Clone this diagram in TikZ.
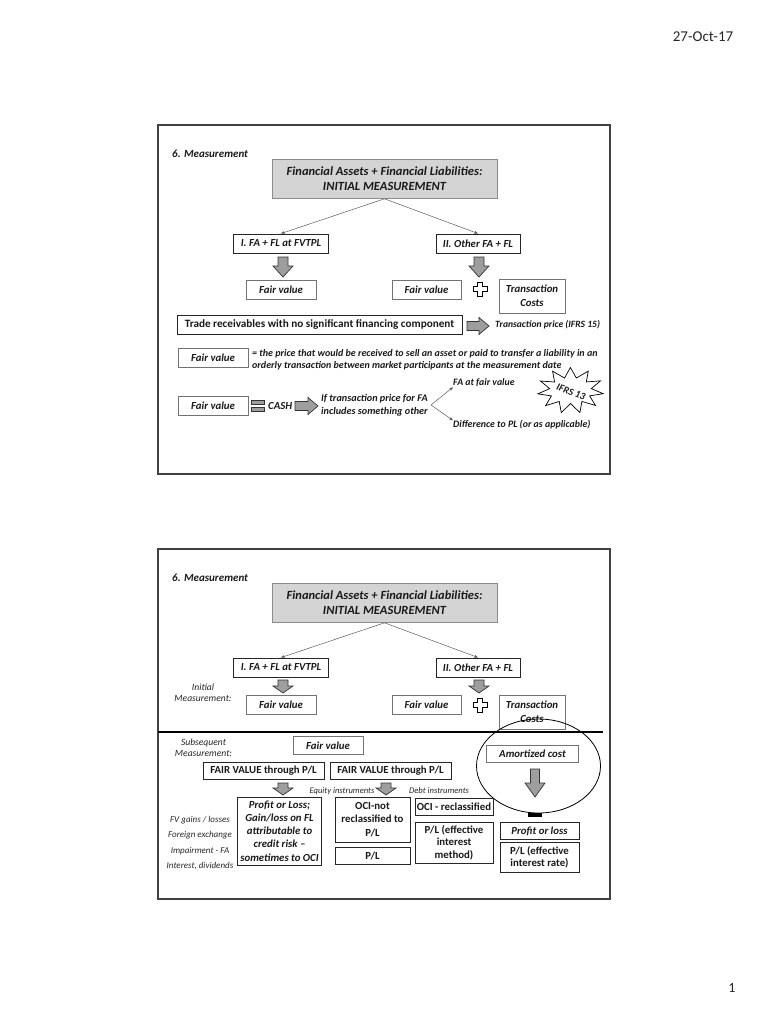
\documentclass[tikz,border=0pt]{standalone}
\usepackage{fontspec}
\setmainfont{Carlito}
\usetikzlibrary{arrows.meta}
% down block arrow: x, ytop, length, shaft half-width, head half-width, head length
\newcommand\dnarrow[6]{%
  \draw[blk] (#1-#4,#2) -- (#1+#4,#2) -- (#1+#4,#2+#3-#6) -- (#1+#5,#2+#3-#6) -- (#1,#2+#3) -- (#1-#5,#2+#3-#6) -- (#1-#4,#2+#3-#6) -- cycle;}
\newcommand\rtarrow[3]{% xleft, ycenter, length
  \draw[blk] (#1,#2-4.5) -- (#1+#3-10,#2-4.5) -- (#1+#3-10,#2-8.5) -- (#1+#3,#2) -- (#1+#3-10,#2+8.5) -- (#1+#3-10,#2+4.5) -- (#1,#2+4.5) -- cycle;}
\newcommand\plusshape[2]{%
  \draw[line width=0.7pt,fill=white] (#1-2.5,#2-7) -- (#1+2.5,#2-7) -- (#1+2.5,#2-2.5) -- (#1+7,#2-2.5) -- (#1+7,#2+2.5) -- (#1+2.5,#2+2.5) -- (#1+2.5,#2+7) -- (#1-2.5,#2+7) -- (#1-2.5,#2+2.5) -- (#1-7,#2+2.5) -- (#1-7,#2-2.5) -- (#1-2.5,#2-2.5) -- cycle;}
\newcommand\bfit{\bfseries\itshape}
\begin{document}
\begin{tikzpicture}[x=1pt,y=-1pt,
  frame/.style={draw=black!75,line width=1.1pt},
  box/.style={draw=black!55,line width=0.6pt,fill=white,inner sep=0pt,align=center,text=black!90,font=\bfseries\itshape\fontsize{10.8}{13}\selectfont},
  sbox/.style={box,draw=black!85,line width=0.9pt,font=\bfseries\fontsize{10.8}{13}\selectfont},
  ibox/.style={box,draw=black!85,line width=0.9pt},
  title/.style={draw=black!45,line width=0.6pt,fill=black!17,inner sep=0pt,align=center,text=black!90,font=\bfseries\itshape\fontsize{12.5}{15}\selectfont},
  lab/.style={inner sep=0pt,text=black!90,font=\bfseries\itshape\fontsize{10.5}{12}\selectfont},
  slab/.style={inner sep=0pt,align=center,font=\itshape\fontsize{9.6}{11.5}\selectfont,text=black!85},
  conn/.style={draw=black!65,line width=0.5pt,-{Stealth[length=4pt,width=3pt]}},
  blk/.style={draw=black!80,line width=0.7pt,fill=black!38},
]
\useasboundingbox (0,0) rectangle (768,1024);
% header and page number
\node[inner sep=0pt,text=black!85,font=\fontsize{15}{17}\selectfont] (date) at (703,37) {27-Oct-17};
\node[inner sep=0pt,text=black!85,font=\fontsize{14}{16}\selectfont] (pg) at (732,988) {1};

% ================= TOP SLIDE =================
\draw[frame] (158,125) rectangle (610,474);
\node[lab,anchor=west,font=\bfseries\itshape\fontsize{11}{12}\selectfont] (m1) at (172,154) {6. Measurement};
\node[title,minimum width=225pt,minimum height=39pt] (t1) at (384.5,179) {Financial Assets + Financial Liabilities:\\\bfit INITIAL MEASUREMENT};
\node[ibox,minimum width=95pt,minimum height=19pt] (a1) at (281,243.5) {I. FA + FL at FVTPL};
\node[ibox,minimum width=84pt,minimum height=19pt] (b1) at (478,243.5) {II. Other FA + FL};
\draw[conn] (t1.south) -- (a1.north);
\draw[conn] (t1.south) -- (b1.north);
\dnarrow{283}{257}{20}{5}{10}{11}
\dnarrow{479}{257}{20}{5}{10}{11}
\node[box,minimum width=70pt,minimum height=19pt] (fv1) at (281,289.5) {Fair value};
\node[box,minimum width=69pt,minimum height=19pt] (fv2) at (426.5,289.5) {Fair value};
\plusshape{480}{289}
\node[box,minimum width=66pt,minimum height=34pt,font=\bfseries\itshape\fontsize{10.8}{14}\selectfont] (tc1) at (532,296) {Transaction\\\bfit Costs};
\node[sbox,minimum width=285pt,minimum height=19pt,font=\bfseries\fontsize{11.2}{13}\selectfont] (tr) at (319.5,324.5) {Trade receivables with no significant financing component};
\rtarrow{467}{326}{22}
\node[lab,anchor=west,font=\bfseries\itshape\fontsize{9.6}{11}\selectfont] (tp) at (495,325) {Transaction price (IFRS 15)};
\node[box,minimum width=70pt,minimum height=19pt] (fv3) at (213,358) {Fair value};
\node[lab,anchor=west,align=left,font=\bfseries\itshape\fontsize{10}{12}\selectfont] (def) at (252,360) {= the price that would be received to sell an asset or paid to transfer a liability in an\\\bfit orderly transaction between market participants at the measurement date};
\node[box,minimum width=70pt,minimum height=19pt] (fv4) at (213,405.5) {Fair value};
\draw[blk] (251,400.5) rectangle (264,404.5);
\draw[blk] (251,407) rectangle (264,411);
\node[lab,anchor=west,font=\bfseries\itshape\fontsize{10.8}{12}\selectfont] (cash) at (268,406) {CASH};
\rtarrow{295}{406}{23}
\node[lab,anchor=west,align=left,font=\bfseries\itshape\fontsize{10.2}{13}\selectfont] (iftp) at (321,405.5) {If transaction price for FA\\\bfit includes something other};
\coordinate (br) at (431,405);
\node[lab,anchor=west,font=\bfseries\itshape\fontsize{9.8}{11}\selectfont] (fafv) at (453,383) {FA at fair value};
\node[lab,anchor=west,font=\bfseries\itshape\fontsize{9.9}{11}\selectfont] (diff) at (453,425) {Difference to PL (or as applicable)};
\draw[conn] (br) -- (fafv.south west);
\draw[conn] (br) -- (diff.north west);
\begin{scope}[shift={(570.5,390.5)}]
\draw[line width=0.7pt,fill=white] (8:33 and 23) \foreach \i in {1,...,21} { -- ({\i*360/22+8}:{mod(\i,2)==0 ? 33 : 21} and {mod(\i,2)==0 ? 23 : 13}) } -- cycle;
\end{scope}
\node[inner sep=0pt,rotate=-20,text=black!90,font=\bfseries\itshape\fontsize{10}{12}\selectfont] (ifrs) at (571,392) {IFRS 13};

% ================= BOTTOM SLIDE =================
\draw[frame] (158,549) rectangle (610,899);
\node[lab,anchor=west,font=\bfseries\itshape\fontsize{11}{12}\selectfont] (m2) at (172,578) {6. Measurement};
\node[title,minimum width=225pt,minimum height=39pt] (t2) at (384.5,603) {Financial Assets + Financial Liabilities:\\\bfit INITIAL MEASUREMENT};
\node[ibox,minimum width=95pt,minimum height=19pt] (a2) at (281,667.5) {I. FA + FL at FVTPL};
\node[ibox,minimum width=84pt,minimum height=19pt] (b2) at (478,667.5) {II. Other FA + FL};
\draw[conn] (t2.south) -- (a2.north);
\draw[conn] (t2.south) -- (b2.north);
\node[slab] (im) at (203,692.5) {Initial\\\itshape Measurement:};
\dnarrow{283}{680}{13}{5}{10}{7}
\dnarrow{479}{680}{13}{5}{10}{7}
\node[box,minimum width=70pt,minimum height=19pt] (fv5) at (281,704.5) {Fair value};
\node[box,minimum width=69pt,minimum height=19pt] (fv6) at (426.5,704.5) {Fair value};
\plusshape{480}{705}
\node[box,minimum width=66pt,minimum height=34pt,font=\bfseries\itshape\fontsize{10.8}{14}\selectfont] (tc2) at (532,712) {Transaction\\\bfit Costs};
\draw[line width=1.5pt] (158,732) -- (603,732);
\node[slab] (sm) at (203.5,747.5) {Subsequent\\\itshape Measurement:};
\node[box,minimum width=70pt,minimum height=18pt] (fv7) at (328,745.5) {Fair value};
\draw[line width=0.8pt] (538.5,766) ellipse (62 and 47);
\node[box,minimum width=92pt,minimum height=17pt] (ac) at (532.5,754) {Amortized cost};
\node[sbox,minimum width=121pt,minimum height=17pt] (fp1) at (263.5,770.5) {FAIR VALUE through P/L};
\node[sbox,minimum width=121pt,minimum height=17pt] (fp2) at (390.5,770.5) {FAIR VALUE through P/L};
\dnarrow{283}{783}{12}{5}{10}{7}
\dnarrow{386}{783}{12}{5}{10}{7}
\node[slab,font=\itshape\fontsize{8.6}{10}\selectfont] (eqi) at (342,791) {Equity instruments};
\node[slab,font=\itshape\fontsize{8.6}{10}\selectfont] (dbi) at (439,791) {Debt instruments};
\dnarrow{535}{769}{28}{4.5}{10}{14}
\fill[black] (528,813) rectangle (542,817);
\node[slab,font=\itshape\fontsize{9}{15.5}\selectfont] (lbl) at (200,843) {FV gains / losses\\\itshape Foreign exchange\\\itshape Impairment - FA\\\itshape Interest, dividends};
\node[ibox,minimum width=84pt,minimum height=68pt,font=\bfseries\itshape\fontsize{10.8}{13.2}\selectfont] (pol) at (279.5,831) {Profit or Loss;\\\bfit Gain/loss on FL\\\bfit attributable to\\\bfit credit risk –\\\bfit sometimes to OCI};
\node[sbox,minimum width=75pt,minimum height=45pt,font=\bfseries\fontsize{10.8}{13.5}\selectfont] (oci) at (372.5,819.5) {OCI-not\\reclassified to\\P/L};
\node[sbox,minimum width=75pt,minimum height=17pt] (pl1) at (372.5,855.5) {P/L};
\node[sbox,minimum width=78pt,minimum height=17pt] (ocir) at (454,806.5) {OCI - reclassified};
\node[sbox,minimum width=78pt,minimum height=41pt,font=\bfseries\fontsize{10.8}{12.3}\selectfont] (plm) at (454,842.5) {P/L (effective\\interest\\method)};
\node[ibox,minimum width=79pt,minimum height=17pt] (pol2) at (539.5,831) {Profit or loss};
\node[sbox,minimum width=79pt,minimum height=30pt,font=\bfseries\fontsize{10.8}{12}\selectfont] (plr) at (539.5,857) {P/L (effective\\interest rate)};
\end{tikzpicture}
\end{document}
